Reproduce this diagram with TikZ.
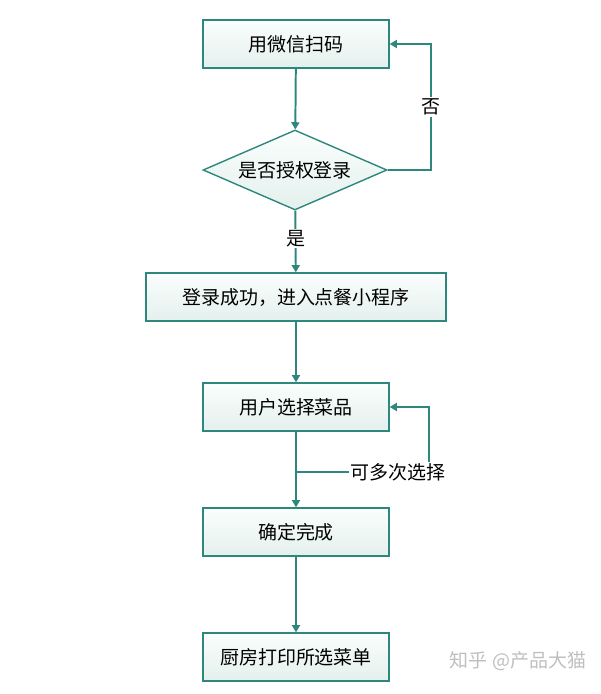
\documentclass[tikz,border=0pt]{standalone}
\usepackage{fontspec}
\newfontfamily\cjk{Noto Sans CJK SC}
\usepackage{tikz}
\usetikzlibrary{calc}
\usetikzlibrary{arrows.meta,shapes,shadows}
\usetikzlibrary{positioning}
\definecolor{tealline}{RGB}{46,135,125}
\definecolor{boxtop}{RGB}{250,254,253}
\definecolor{boxbot}{RGB}{228,240,237}

\begin{document}
\begin{tikzpicture}
      \tikzstyle{every node}=[font=\cjk\fontsize{13.5}{16}\selectfont]
      \tikzstyle{proc}=[rectangle,draw=tealline,line width=1pt,top color=boxtop,bottom color=boxbot,minimum width=4.65cm,minimum height=1.2cm]
      \tikzstyle{decide}=[diamond,aspect=2.3,draw=tealline,line width=1pt,top color=boxtop,bottom color=boxbot,minimum width=4.6cm,minimum height=2cm,inner sep=0pt]
      \tikzstyle{line}=[draw=tealline,line width=1.4pt,-{Triangle[length=1.8mm,width=2mm]}]
      \tikzstyle{lbl}=[fill=white,inner sep=1pt]
      \useasboundingbox (0,0) rectangle (15,-17.35);
      \node[proc] (scan) at (7.4,-1.1) {用微信扫码};
      \node[decide] (auth) at (7.375,-4.25) {是否授权登录};
      \node[proc,minimum width=7.5cm] (login) at (7.4,-7.425) {登录成功，进入点餐小程序};
      \node[proc] (pick) at (7.4,-10.175) {用户选择菜品};
      \node[proc] (done) at (7.4,-13.3) {确定完成};
      \node[proc] (print) at (7.4,-16.425) {厨房打印所选菜单};
      \node[inner sep=1pt] (multi) at (9.95,-11.8) {可多次选择};
      \coordinate (back) at (10.725,-11.8);
      \node[text=black!25] (mark) at (12.95,-16.525) {知乎 @产品大猫};
      \draw[line] (scan) -- (auth);
      \draw[line] (auth.east) -- ++(1.075,0) |- node[pos=0.25,lbl]{否} (scan.east);
      \draw[line] (auth) -- node[pos=0.45,lbl]{是} (login);
      \draw[line] (login) -- (pick);
      \draw[line] (pick) -- (done);
      \draw[line] (done) -- (print);
      \draw[tealline,line width=1.4pt] (pick.south |- multi.west) -- (multi.west);
      \draw[line] (back |- multi.north) |- (pick.east);
    \end{tikzpicture}
\end{document}
